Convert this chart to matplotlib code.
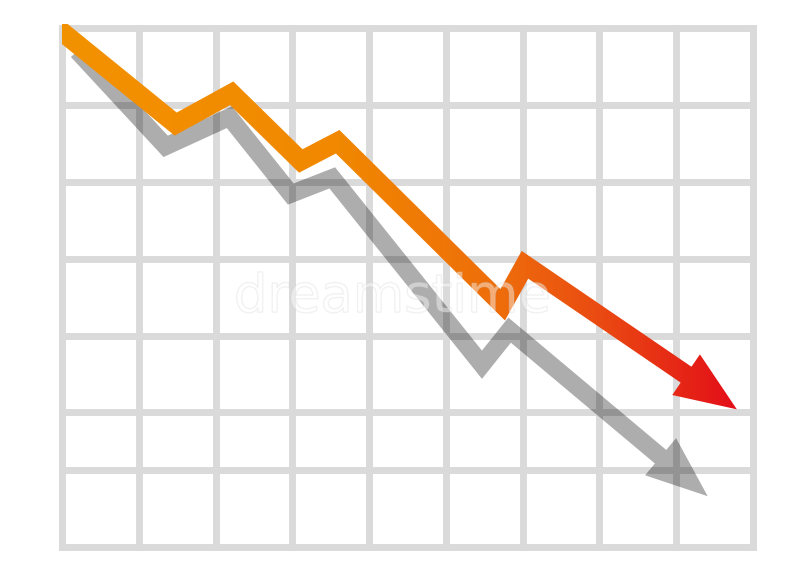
import numpy as np
import matplotlib
matplotlib.use("Agg")
import matplotlib.pyplot as plt
from matplotlib.path import Path
from matplotlib.patches import PathPatch
from matplotlib.colors import LinearSegmentedColormap
import matplotlib.patheffects as pe

# grid positions (columns / rows of the background grid)
grid_x = [0, 1, 2, 3, 4, 5, 6, 7, 8, 9]
grid_y = [0, 1.0, 1.75, 2.75, 3.75, 4.75, 5.75, 6.75]

# main falling line (last point is the arrow tip)
line_x = [0.00, 1.48, 2.21, 3.11, 3.59, 5.74, 6.03, 8.79]
line_y = [6.70, 5.50, 5.90, 5.02, 5.27, 3.15, 3.67, 1.79]

# its grey shadow (starts hidden under the main line)
shadow_x = [0.20, 1.35, 2.18, 2.98, 3.52, 5.47, 5.83, 8.41]
shadow_y = [6.45, 5.21, 5.59, 4.59, 4.80, 2.37, 2.82, 0.66]

# colour ramp along x for the main line
ramp_pos = [0.0, 0.40, 0.64, 0.78, 1.0]
ramp_col = ["#f39200", "#f18800", "#ee6c0b", "#ea4a12", "#e3071a"]


def band_path(xs, ys, width, head_len, head_w, lead=0.0):
    """Outline of a thick polyline with miter joins plus a triangular arrow head."""
    p = np.column_stack([xs, ys]).astype(float)
    # optional stub before the first point so it gets cut by the frame
    d0 = p[1] - p[0]
    d0 /= np.hypot(*d0)
    p = np.vstack([p[0] - lead * d0, p[1:]])
    tip = p[-1].copy()
    d = tip - p[-2]
    d /= np.hypot(*d)
    base = tip - head_len * d
    p[-1] = base + 0.15 * head_len * d
    h = width / 2
    segs = np.diff(p, axis=0)
    segs /= np.hypot(segs[:, 0], segs[:, 1])[:, None]
    norms = np.column_stack([-segs[:, 1], segs[:, 0]])
    left, right = [], []
    for i in range(len(p)):
        if i == 0:
            m = norms[0] * h
        elif i == len(p) - 1:
            m = norms[-1] * h
        else:
            n1, n2 = norms[i - 1], norms[i]
            m = (n1 + n2) / (1 + np.dot(n1, n2)) * h
        left.append(p[i] + m)
        right.append(p[i] - m)
    shaft = np.array(left + right[::-1])
    n = np.array([-d[1], d[0]])
    head = np.array([base + n * head_w / 2, tip, base - n * head_w / 2])
    return Path.make_compound_path(Path(shaft, closed=False),
                                   Path(head, closed=False))


fig = plt.figure(figsize=(8, 5.81), dpi=100)
ax = fig.add_axes([0.07275, 0.052, 0.87325, 0.9065])
ax.set_xlim(-0.05, 9.05)
ax.set_ylim(-0.05, 6.80)
ax.axis("off")

# background grid
ax.vlines(grid_x, grid_y[0], grid_y[-1], colors="#dadada", linewidth=5.0,
          capstyle="projecting", zorder=1)
ax.hlines(grid_y, grid_x[0], grid_x[-1], colors="#dadada", linewidth=5.0,
          capstyle="projecting", zorder=1)

# shadow
sp = band_path(shadow_x, shadow_y, 0.23, 0.80, 0.63)
ax.add_patch(PathPatch(sp, facecolor="black", edgecolor="none", alpha=0.32,
                       zorder=2))

# main line with gradient
mp = band_path(line_x, line_y, 0.25, 0.80, 0.64, lead=0.3)
cmap = LinearSegmentedColormap.from_list("fall", list(zip(ramp_pos, ramp_col)))
grad = np.linspace(0, 1, 512)[None, :]
im = ax.imshow(grad, cmap=cmap, extent=[0, 9, -0.05, 6.8], aspect="auto",
               zorder=3, interpolation="bilinear")
clip = PathPatch(mp, transform=ax.transData, facecolor="none", edgecolor="none")
ax.add_patch(clip)
im.set_clip_path(clip)

# faint watermark
ax.text(4.3, 3.25, "dreamstime", fontsize=38, ha="center", va="center",
        color="white", alpha=0.25, zorder=4,
        path_effects=[pe.Stroke(linewidth=1.0, foreground="#c4c4c4", alpha=0.25),
                      pe.Normal()])

fig.savefig("out.png", dpi=100, facecolor="white")
